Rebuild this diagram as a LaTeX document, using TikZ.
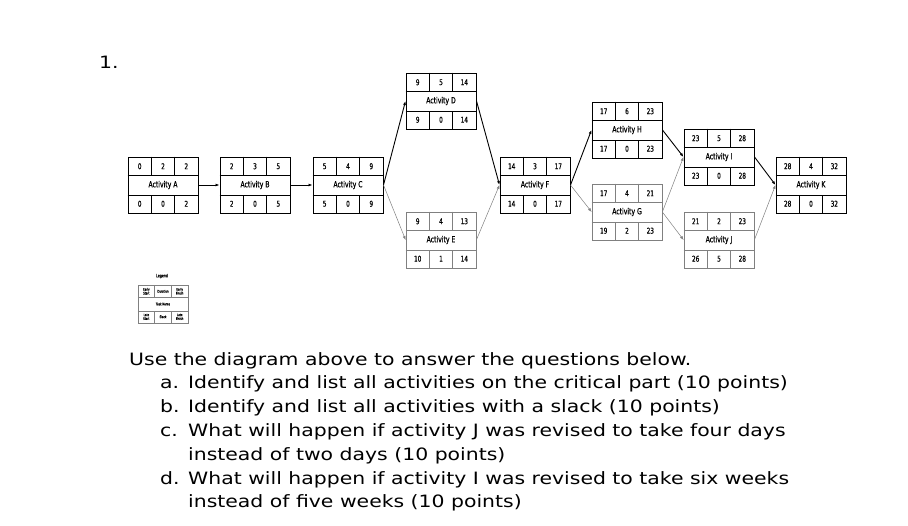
\documentclass[tikz,border=0pt]{standalone}
\usepackage{fontspec}
\setmainfont{DejaVu Sans}[FakeStretch=1.2]
\newfontfamily\boxfont{DejaVu Sans Condensed}[FakeStretch=0.8,FakeBold=0.6]
\usetikzlibrary{positioning,calc,arrows.meta}

\begin{document}
\begin{tikzpicture}[x=1pt,y=-1pt,>={Latex[length=4pt,width=3pt]}]
\useasboundingbox[fill=white] (0,0) rectangle (908,525);
\tikzset{
  actBox/.style={draw, minimum width=70pt, minimum height=56pt, inner sep=0pt,
    font=\boxfont\fontsize{8.5}{9}\selectfont},
  numText/.style={font=\boxfont\fontsize{8}{9}\selectfont},
  critLink/.style={->, black, line width=0.9pt},
  slackLink/.style={->, gray, line width=0.5pt},
  legCell/.style={font=\boxfont\fontsize{3.6}{3.8}\selectfont, align=center, inner sep=0pt}
}

% -------- activity boxes ----------
\foreach \n/\x/\y/\es/\d/\ef/\ls/\s/\lf/\c/\w in {
    A/163/185/0/2/2/0/0/2/black/1pt,
    B/255/185/2/3/5/2/0/5/black/1pt,
    C/348/185/5/4/9/5/0/9/black/1pt,
    D/441/101/9/5/14/9/0/14/black/1pt,
    E/441/240/9/4/13/10/1/14/gray/0.7pt,
    F/535/185/14/3/17/14/0/17/black/1pt,
    H/627/130/17/6/23/17/0/23/black/1pt,
    G/627/212/17/4/21/19/2/23/gray/0.7pt,
    I/719/157/23/5/28/23/0/28/black/1pt,
    J/719/240/21/2/23/26/5/28/gray/0.7pt,
    K/811/185/28/4/32/28/0/32/black/1pt}{
  \node[actBox, draw=\c, line width=\w] (\n) at (\x,\y) {Activity \n};
  % grid
  \draw[\c, line width=\w] ([yshift=-18.5pt]\n.north west) -- ([yshift=-18.5pt]\n.north east);
  \draw[\c, line width=\w] ([yshift=18.5pt]\n.south west) -- ([yshift=18.5pt]\n.south east);
  \foreach \k in {-1,1}{
    \draw[\c, line width=\w] ([xshift=\k*11.67pt]\n.north) -- ++(0,18.5);
    \draw[\c, line width=\w] ([xshift=\k*11.67pt]\n.south) -- ++(0,-18.5);
  }
  \node[numText] at ([xshift=-23.3pt,yshift=18.75pt]\n.center) {\es};
  \node[numText] at ([yshift=18.75pt]\n.center) {\d};
  \node[numText] at ([xshift=23.3pt,yshift=18.75pt]\n.center) {\ef};
  \node[numText] at ([xshift=-23.3pt,yshift=-18.75pt]\n.center) {\ls};
  \node[numText] at ([yshift=-18.75pt]\n.center) {\s};
  \node[numText] at ([xshift=23.3pt,yshift=-18.75pt]\n.center) {\lf};
}

% -------- links ----------
\draw[critLink] (A.east) -- (B.west);
\draw[critLink] (B.east) -- (C.west);
\draw[critLink] (C.east) -- (D.west);
\draw[slackLink] (C.east) -- (E.west);
\draw[critLink] (D.east) -- (F.west);
\draw[slackLink] (E.east) -- (F.west);
\draw[critLink] (F.east) -- (H.west);
\draw[slackLink] (F.east) -- (G.west);
\draw[critLink] (H.east) -- (I.west);
\draw[slackLink] (G.east) -- (I.west);
\draw[slackLink] (G.east) -- (J.west);
\draw[critLink] (I.east) -- (K.west);
\draw[slackLink] (J.east) -- (K.west);

% -------- legend ----------
\node[font=\boxfont\fontsize{4.5}{5}\selectfont] (legTitle) at (162,276) {Legend};
\node[draw=gray, line width=0.5pt, minimum width=50pt, minimum height=38pt, inner sep=0pt,
  legCell] (legend) at (163,304) {Task Name};
\draw[gray, line width=0.5pt] ([yshift=-12.5pt]legend.north west) -- ([yshift=-12.5pt]legend.north east);
\draw[gray, line width=0.5pt] ([yshift=12.5pt]legend.south west) -- ([yshift=12.5pt]legend.south east);
\foreach \k in {-1,1}{
  \draw[gray, line width=0.5pt] ([xshift=\k*8.33pt]legend.north) -- ++(0,12.5);
  \draw[gray, line width=0.5pt] ([xshift=\k*8.33pt]legend.south) -- ++(0,-12.5);
}
\node[legCell] at ([xshift=-16.67pt,yshift=12.75pt]legend.center) {Early\\Start};
\node[legCell] at ([yshift=12.75pt]legend.center) {Duration};
\node[legCell] at ([xshift=16.67pt,yshift=12.75pt]legend.center) {Early\\Finish};
\node[legCell] at ([xshift=-16.67pt,yshift=-12.75pt]legend.center) {Late\\Start};
\node[legCell] at ([yshift=-12.75pt]legend.center) {Slack};
\node[legCell] at ([xshift=16.67pt,yshift=-12.75pt]legend.center) {Late\\Finish};

% -------- questions ----------
\node[anchor=base west, inner sep=0pt, font=\fontsize{17}{20}\selectfont] (num) at (99,68) {1.};
\node[anchor=north west, inner sep=0pt, align=left, font=\fontsize{17}{23.8}\selectfont] (questions) at (129,352) {%
  Use the diagram above to answer the questions below.\\
  \hspace*{31pt}\makebox[28pt][l]{a.}Identify and list all activities on the critical part (10 points)\\
  \hspace*{31pt}\makebox[28pt][l]{b.}Identify and list all activities with a slack (10 points)\\
  \hspace*{31pt}\makebox[28pt][l]{c.}What will happen if activity J was revised to take four days\\
  \hspace*{59pt}instead of two days (10 points)\\
  \hspace*{31pt}\makebox[28pt][l]{d.}What will happen if activity I was revised to take six weeks\\
  \hspace*{59pt}instead of five weeks (10 points)};
\end{tikzpicture}
\end{document}
